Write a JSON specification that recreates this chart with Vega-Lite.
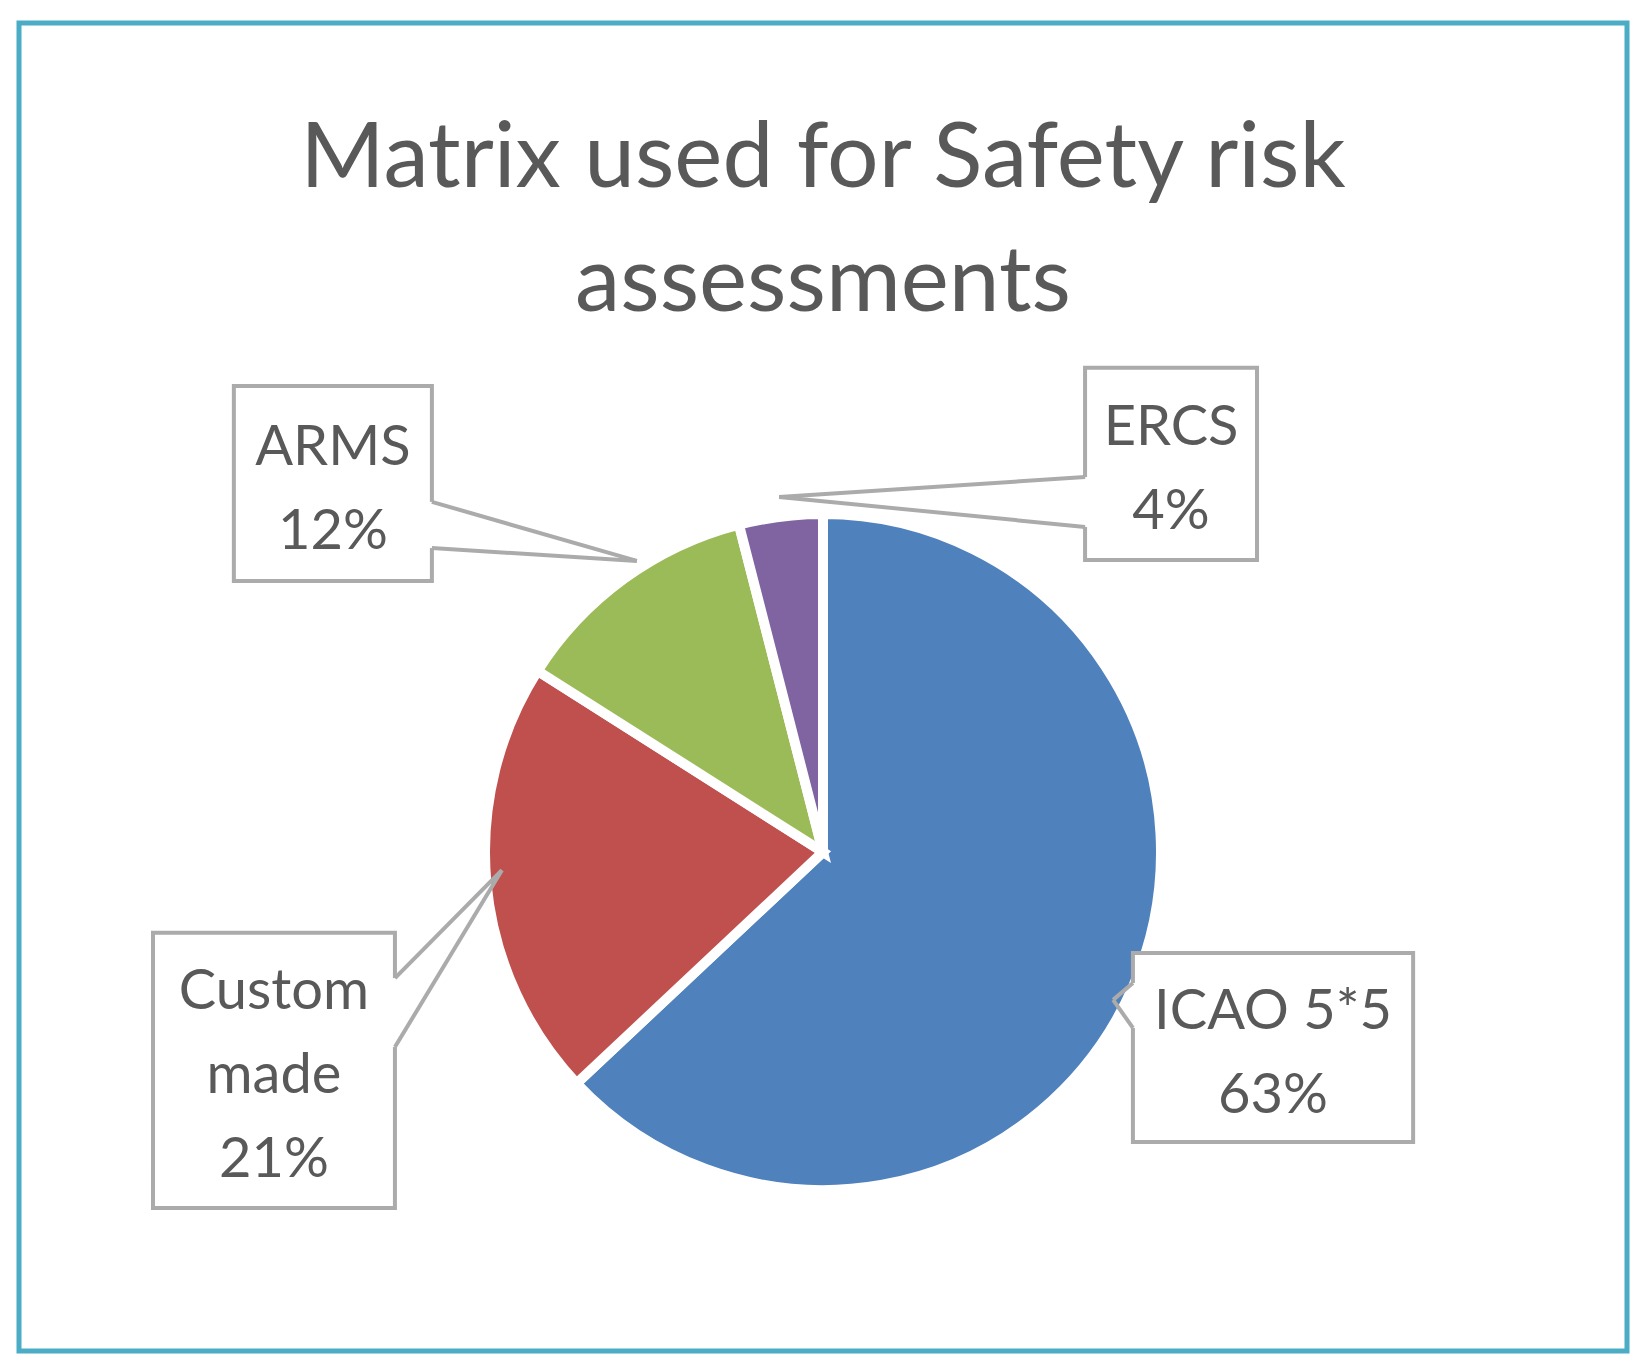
{
  "$schema": "https://vega.github.io/schema/vega-lite/v6.json",
  "width": 1608,
  "height": 1328,
  "autosize": {"type": "none"},
  "padding": {"left": 19, "top": 23, "right": 24, "bottom": 20},
  "background": "white",
  "config": {"view": {"stroke": "#4BACC6", "strokeWidth": 5}, "font": "Lato"},
  "datasets": {
    "slices": [
      {"matrix": "ICAO 5*5", "share": 63, "order": 1},
      {"matrix": "Custom made", "share": 21, "order": 2},
      {"matrix": "ARMS", "share": 12, "order": 3},
      {"matrix": "ERCS", "share": 4, "order": 4}
    ],
    "callouts": [
      {"matrix": "ICAO 5*5", "label": "ICAO 5*5\n63%", "x1": 93.9, "x2": 178.8, "y1": -30.6, "y2": -87.9, "ex": 93.9, "ey1": -39.7, "ey2": -53.3, "tx": 87.9, "ty": -44.8},
      {"matrix": "Custom made", "label": "Custom\nmade\n21%", "x1": -203.0, "x2": -129.7, "y1": -24.5, "y2": -107.9, "ex": -129.7, "ey1": -38.2, "ey2": -59.1, "tx": -97.3, "ty": -5.5},
      {"matrix": "ARMS", "label": "ARMS\n12%", "x1": -178.5, "x2": -118.5, "y1": 141.2, "y2": 82.1, "ex": -118.5, "ey1": 106.1, "ey2": 92.1, "tx": -56.4, "ty": 88.2},
      {"matrix": "ERCS", "label": "ERCS\n4%", "x1": 79.4, "x2": 131.5, "y1": 146.7, "y2": 88.5, "ex": 79.4, "ey1": 113.6, "ey2": 98.5, "tx": -13.3, "ty": 107.6}
    ]
  },
  "layer": [
    {
      "data": {"values": [{}]},
      "mark": {"type": "text", "text": ["Matrix used  for Safety risk", "assessments"], "fontSize": 91, "color": "#595959", "align": "center", "baseline": "alphabetic", "lineHeight": 124, "font": "Lato"},
      "encoding": {
        "x": {"datum": 0, "type": "quantitative", "scale": {"domain": [-243.6, 243.6], "nice": false, "zero": false}, "axis": null},
        "y": {"datum": 201.5, "type": "quantitative", "scale": {"domain": [-151.2, 251.2], "nice": false, "zero": false}, "axis": null}
      }
    },
    {
      "data": {"name": "slices"},
      "mark": {"type": "arc", "outerRadius": 338, "stroke": "white", "strokeWidth": 10},
      "encoding": {
        "theta": {"field": "share", "type": "quantitative", "stack": true},
        "order": {"field": "order", "type": "quantitative"},
        "color": {"field": "matrix", "type": "nominal", "scale": {"domain": ["ICAO 5*5", "Custom made", "ARMS", "ERCS"], "range": ["#4F81BD", "#C0504D", "#9BBB59", "#8064A2"]}, "legend": null},
        "x": {"datum": 0, "type": "quantitative", "scale": {"domain": [-243.6, 243.6], "nice": false, "zero": false}, "axis": null},
        "y": {"datum": 0, "type": "quantitative", "scale": {"domain": [-151.2, 251.2], "nice": false, "zero": false}, "axis": null}
      }
    },
    {
      "data": {"name": "callouts"},
      "mark": {"type": "rect", "fill": "white", "stroke": "#ABABAB", "strokeWidth": 4},
      "encoding": {
        "x": {"field": "x1", "type": "quantitative", "scale": {"domain": [-243.6, 243.6], "nice": false, "zero": false}, "axis": null},
        "x2": {"field": "x2"},
        "y": {"field": "y1", "type": "quantitative", "scale": {"domain": [-151.2, 251.2], "nice": false, "zero": false}, "axis": null},
        "y2": {"field": "y2"}
      }
    },
    {
      "data": {"name": "callouts"},
      "mark": {"type": "rule", "stroke": "white", "strokeWidth": 7},
      "encoding": {
        "x": {"field": "ex", "type": "quantitative", "scale": {"domain": [-243.6, 243.6], "nice": false, "zero": false}, "axis": null},
        "x2": {"field": "ex"},
        "y": {"field": "ey1", "type": "quantitative", "scale": {"domain": [-151.2, 251.2], "nice": false, "zero": false}, "axis": null},
        "y2": {"field": "ey2"}
      }
    },
    {
      "data": {"name": "callouts"},
      "mark": {"type": "rule", "stroke": "#ABABAB", "strokeWidth": 4},
      "encoding": {
        "x": {"field": "ex", "type": "quantitative", "scale": {"domain": [-243.6, 243.6], "nice": false, "zero": false}, "axis": null},
        "x2": {"field": "tx"},
        "y": {"field": "ey1", "type": "quantitative", "scale": {"domain": [-151.2, 251.2], "nice": false, "zero": false}, "axis": null},
        "y2": {"field": "ty"}
      }
    },
    {
      "data": {"name": "callouts"},
      "mark": {"type": "rule", "stroke": "#ABABAB", "strokeWidth": 4},
      "encoding": {
        "x": {"field": "ex", "type": "quantitative", "scale": {"domain": [-243.6, 243.6], "nice": false, "zero": false}, "axis": null},
        "x2": {"field": "tx"},
        "y": {"field": "ey2", "type": "quantitative", "scale": {"domain": [-151.2, 251.2], "nice": false, "zero": false}, "axis": null},
        "y2": {"field": "ty"}
      }
    },
    {
      "data": {"name": "callouts"},
      "transform": [
        {"calculate": "(datum.x1 + datum.x2) / 2", "as": "cx"},
        {"calculate": "(datum.y1 + datum.y2) / 2 + (length(split(datum.label, '\\n')) - 1) * (84 / 3.3) / 2", "as": "cy"}
      ],
      "mark": {"type": "text", "fontSize": 56, "color": "#595959", "align": "center", "baseline": "middle", "lineBreak": "\n", "lineHeight": 84, "dy": 6, "font": "Lato"},
      "encoding": {
        "x": {"field": "cx", "type": "quantitative", "scale": {"domain": [-243.6, 243.6], "nice": false, "zero": false}, "axis": null},
        "y": {"field": "cy", "type": "quantitative", "scale": {"domain": [-151.2, 251.2], "nice": false, "zero": false}, "axis": null},
        "text": {"field": "label", "type": "nominal"}
      }
    }
  ]
}
